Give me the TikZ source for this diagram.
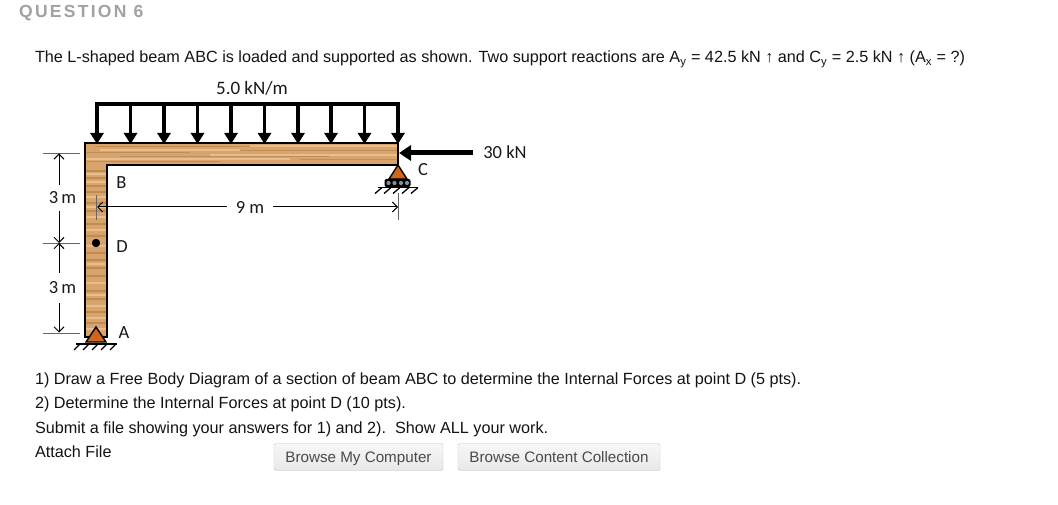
\documentclass[tikz,border=0pt]{standalone}
\usepackage{fontspec}
\setmainfont{Liberation Sans}
\newfontfamily\calfont{Carlito}
\usetikzlibrary{arrows.meta}
\definecolor{woodbase}{HTML}{D8A46C}
\definecolor{wooddark}{HTML}{A8743C}
\definecolor{woodlight}{HTML}{EBC598}
\definecolor{pinfill}{HTML}{D0661C}
\definecolor{qgray}{HTML}{A2A2A2}
\definecolor{btntext}{HTML}{4A4A4A}
\definecolor{btnedge}{HTML}{C8C8C8}
\tikzset{
  body/.style={anchor=base west,inner sep=0pt,outer sep=0pt,font=\fontsize{16.2}{16}\selectfont,text=black!92},
  lbl/.style={inner sep=0pt,outer sep=0pt,font=\calfont\fontsize{18.5}{18}\selectfont,text=black!90},
  loadbar/.style={line width=3.2pt,black},
  loadarrow/.style={line width=3.2pt,black,-{Triangle[length=11pt,width=13pt]}},
  bigarrow/.style={line width=5pt,black,-{Triangle[length=12pt,width=15pt]}},
  dimhalf/.style={line width=1pt,black},
  tickline/.style={line width=0.7pt,black!60},
  btn/.style={draw=btnedge,rounded corners=1.5pt,top color=white!97!black,bottom color=black!9,minimum height=27pt,inner sep=0pt,text height=14pt,text depth=3.5pt,font=\fontsize{15.2}{15}\selectfont,text=btntext},
  hatch/.style={line width=1.3pt,black}
}
\begin{document}
\begin{tikzpicture}[x=1pt,y=-1pt]
\useasboundingbox (0,0) rectangle (1058,505);
\fill[white] (0,0) rectangle (1058,505);
% header and text
\node[anchor=base west,inner sep=0pt,font=\bfseries\fontsize{17.5}{17}\selectfont,text=qgray] (title) at (19,17.5) {\addfontfeature{LetterSpace=13}QUESTION 6};
\node[body] (intro) at (35,62.5) {The L-shaped beam ABC is loaded and supported as shown. Two support reactions are A\textsubscript{y} = 42.5 kN ↑ and C\textsubscript{y} = 2.5 kN ↑ (A\textsubscript{x} = ?)};
\node[body] (q1) at (35,384) {1) Draw a Free Body Diagram of a section of beam ABC to determine the Internal Forces at point D (5 pts).};
\node[body] (q2) at (35,408.5) {2) Determine the Internal Forces at point D (10 pts).};
\node[body] (q3) at (35,433) {Submit a file showing your answers for 1) and 2).\ \ Show ALL your work.};
\node[body] (attach) at (35,457) {Attach File};
\node[btn,minimum width=169pt] (browse1) at (358.5,457) {Browse My Computer};
\node[btn,minimum width=202pt] (browse2) at (559,457) {Browse Content Collection};
% beam
\begin{scope}
\clip (85,143) -- (398,143) -- (398,165) -- (107,165) -- (107,337) -- (85,337) -- cycle;
\fill[woodbase] (85,143) rectangle (398,337);
\foreach \yy/\xa/\xb in {147/95/260,151/230/398,153/85/190,157/120/330,160/300/398,162/85/220}{
  \draw[wooddark,line width=1pt,opacity=.45] (\xa,\yy) -- (\xb,\yy);}
\foreach \yy/\xa/\xb in {146/250/398,150/100/240,155/210/398,159/85/290}{
  \draw[woodlight,line width=1.4pt,opacity=.8] (\xa,\yy) -- (\xb,\yy);}
\foreach \yy in {171,178,186,192,203,211,224,236,253,260,268,276,291,299,312,323}{
  \draw[wooddark,line width=1.1pt,opacity=.5] (85,\yy) -- (107,\yy);}
\foreach \yy in {174,182,197,207,217,230,246,264,283,295,306,318,329}{
  \draw[woodlight,line width=1.6pt,opacity=.8] (85,\yy) -- (107,\yy);}
\end{scope}
\draw[black,line width=1.9pt,line join=miter] (85,143) -- (398,143) -- (398,165) -- (107,165) -- (107,337) -- (85,337) -- cycle;
% distributed load
\draw[loadbar,line cap=rect] (97,104) -- (398,104);
\foreach \xx in {97,130.5,164,197.5,231,264.5,298,331,364.5,398}{
  \draw[loadarrow] (\xx,104) -- (\xx,144);}
\node[lbl,font=\calfont\fontsize{19}{19}\selectfont] (loadlbl) at (252,88) {5.0 kN/m};
% point load
\coordinate (loadstart) at (473,153);
\coordinate (loadend) at (399,153);
\draw[bigarrow] (loadstart) -- (loadend);
\node[lbl] (kn) at (505,152) {30 kN};
% pin at A
\fill[pinfill] (96,327) -- (106,342) -- (86,342) -- cycle;
\draw[black,line width=1.4pt] (96,327) -- (106,342) -- (86,342) -- cycle;
\draw[hatch] (76,344) -- (117,344);
\foreach \xx in {80,89,98,107,116}{\draw[hatch] (\xx,344) -- (\xx-6,350);}
% pin and roller at C
\fill[pinfill] (398,165) -- (407,179) -- (389,179) -- cycle;
\draw[black,line width=1.4pt] (398,165) -- (407,179) -- (389,179) -- cycle;
\fill[black,rounded corners=2pt] (384.5,179) rectangle (410.5,187) ;
\foreach \xx in {388.5,394.5,401,407}{\fill[black!45] (\xx,183) circle (2.1pt);}
\draw[hatch] (378,187.5) -- (417,187.5);
\foreach \xx in {382,391,400,409,418}{\draw[hatch] (\xx,187.5) -- (\xx-7,193.5);}
% point D
\fill[black] (96,243) circle (4.2pt);
% dimensions
\draw[tickline] (43,153) -- (80,153);
\draw[tickline] (43,243) -- (80,243);
\draw[tickline] (43,333) -- (80,333);
\draw[tickline] (96.5,195) -- (96.5,220);
\draw[tickline] (398,193) -- (398,220);
\coordinate (d1) at (59,153.5);
\coordinate (d2) at (59,243);
\coordinate (d3) at (59,332.5);
\coordinate (h1) at (97,207);
\coordinate (h2) at (398,207);
\node[lbl] (m1) at (62.5,198) {3\,m};
\node[lbl] (m2) at (62.5,288) {3\,m};
\node[lbl] (m3) at (250,207) {9 m};
\draw[dimhalf,{Straight Barb[length=5pt,width=10pt]}-] (d1) -- (59,185);
\draw[dimhalf,-{Straight Barb[length=5pt,width=10pt]}] (59,211) -- (d2);
\draw[dimhalf,{Straight Barb[length=5pt,width=10pt]}-] (d2) -- (59,273);
\draw[dimhalf,-{Straight Barb[length=5pt,width=10pt]}] (59,303) -- (d3);
\draw[dimhalf,{Straight Barb[length=5pt,width=10pt]}-] (h1) -- (227,207);
\draw[dimhalf,-{Straight Barb[length=5pt,width=10pt]}] (273,207) -- (h2);
% point labels
\node[lbl] (B) at (121.5,183) {B};
\node[lbl] (D) at (122,247) {D};
\node[lbl] (A) at (124,333) {A};
\node[lbl] (C) at (423,170) {C};
\end{tikzpicture}
\end{document}
